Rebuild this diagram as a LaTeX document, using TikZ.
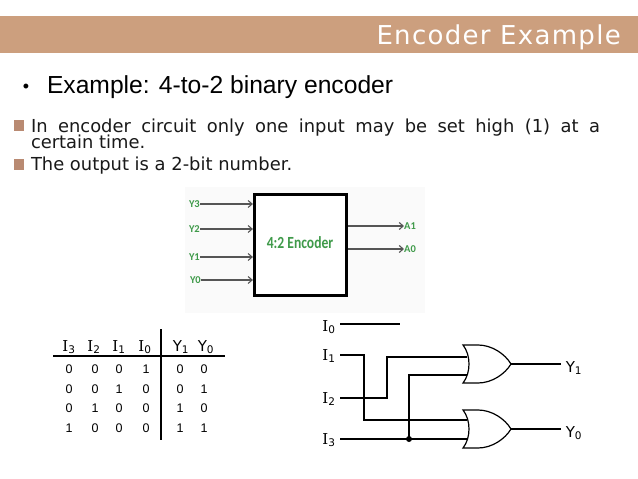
\documentclass[tikz,border=0pt]{standalone}
\usepackage{fontspec}
\setmainfont{Liberation Sans}
\newfontfamily\dvs{DejaVu Sans}
\newfontfamily\dvstitle[LetterSpace=5]{DejaVu Sans}
\newfontfamily\dvi{DejaVu Serif}
\newfontfamily\crl{Carlito}
\usetikzlibrary{arrows.meta}
\definecolor{barcol}{HTML}{CC9F7E}
\definecolor{sqcol}{HTML}{B98A72}
\definecolor{grn}{HTML}{3F9A4A}
\definecolor{arrgray}{HTML}{555555}
\newcommand{\Iv}[1]{{\dvi I}\textsubscript{\dvs #1}}
\newcommand{\Yv}[1]{{\dvs Y}\textsubscript{\dvs #1}}
\tikzset{
  x=1pt,y=-1pt,
  txt/.style={inner sep=0pt,outer sep=0pt,anchor=base west,text=black},
  bodytxt/.style={txt,font=\dvs\fontsize{17.9}{18}\selectfont,text=black!90},
  sq/.style={fill=sqcol,draw=none,inner sep=0pt,minimum width=10pt,minimum height=11pt,anchor=north west},
  grnlbl/.style={inner sep=0pt,text=grn,font=\crl\bfseries\fontsize{10.5}{11}\selectfont},
  encarrow/.style={draw=arrgray,line width=1.1pt,-{Straight Barb[length=4pt,width=7pt]}},
  wire/.style={draw=black,line width=1.2pt},
  rule/.style={draw=black,line width=1.5pt},
  digit/.style={inner sep=0pt,font=\fontsize{12.5}{13}\selectfont,anchor=base},
  hdr/.style={inner sep=0pt,font=\fontsize{15}{15}\selectfont,anchor=base},
  cirlbl/.style={inner sep=0pt,font=\fontsize{15}{15}\selectfont,anchor=base},
  orgate/.pic={
    \draw[line width=1.2pt,fill=white]
      (-1,-19) .. controls (7,-9) and (7,9) .. (-1,19)
      -- (14,19) .. controls (28,19) and (41,10) .. (47,0)
      .. controls (41,-10) and (28,-19) .. (14,-19) -- cycle;
  }
}
\begin{document}
\begin{tikzpicture}
\useasboundingbox (0,0) rectangle (638,479);
\fill[white] (0,0) rectangle (638,479);
% title
\fill[barcol] (0,16) rectangle (638,53);
\node[inner sep=0pt,anchor=base east,text=white,font=\dvstitle\fontsize{26}{26}\selectfont] (title) at (621,45) {Encoder Example};
% headline
\node[txt,font=\fontsize{18}{18}\selectfont] (bul) at (23,92) {•};
\node[txt,font=\fontsize{24.65}{25}\selectfont] (head) at (47,93) {Example: 4-to-2 binary encoder};
% body
\node[sq] (s1) at (13.5,120) {};
\node[bodytxt] (l1) at (31,132) {\makebox[569pt][s]{In encoder circuit only one input may be set high (1) at a}};
\node[bodytxt] (l2) at (31,148) {certain time.};
\node[sq] (s2) at (13.5,159) {};
\node[bodytxt] (l3) at (31,170) {The output is a 2-bit number.};
% encoder block
\fill[black!2] (185,187) rectangle (425,313);
\node[draw=black,line width=3.2pt,fill=white,minimum width=92pt,minimum height=101pt,inner sep=0pt] (enc) at (300.5,245) {};
\node[inner sep=0pt,text=grn,font=\crl\bfseries\fontsize{17}{17}\selectfont] (enctxt) at (300,243) {\scalebox{0.8}[1]{4:2 Encoder}};
\node[grnlbl,anchor=east] (y3) at (200,204) {Y3};
\node[grnlbl,anchor=east] (y2) at (200,229) {Y2};
\node[grnlbl,anchor=east] (y1) at (200,257) {Y1};
\node[grnlbl,anchor=east] (y0) at (201,280) {Y0};
\node[grnlbl,anchor=west] (a1) at (404,226) {A1};
\node[grnlbl,anchor=west] (a0) at (404,249) {A0};
\draw[encarrow] (y3.east) -- (y3.east -| enc.west);
\draw[encarrow] (y2.east) -- (y2.east -| enc.west);
\draw[encarrow] (y1.east) -- (y1.east -| enc.west);
\draw[encarrow] (y0.east) -- (y0.east -| enc.west);
\draw[encarrow] (a1.west -| enc.east) -- (a1.west);
\draw[encarrow] (a0.west -| enc.east) -- (a0.west);
% truth table
\foreach \n/\x/\t in {a/69/3,b/94/2,c/119/1,d/145/0}
  \node[hdr] (h\n) at (\x,351) {\Iv{\t}};
\foreach \n/\x/\t in {e/181/1,f/206/0}
  \node[hdr] (h\n) at (\x,351) {\Yv{\t}};
\coordinate (hl) at (53,356); \coordinate (hr) at (225,356);
\coordinate (vt) at (161,329); \coordinate (vb) at (161,440);
\draw[rule] (hl) -- (hr);
\draw[rule] (vt) -- (vb);
\foreach \y/\da/\db/\dc/\dd/\de/\df in {373/0/0/0/1/0/0,393/0/0/1/0/0/1,412/0/1/0/0/1/0,432/1/0/0/0/1/1}{
  \node[digit] at (69,\y) {\da};
  \node[digit] at (95,\y) {\db};
  \node[digit] at (119,\y) {\dc};
  \node[digit] at (146,\y) {\dd};
  \node[digit] at (180,\y) {\de};
  \node[digit] at (204,\y) {\df};
}
% circuit
\node[cirlbl] (i0) at (329,331) {\Iv{0}};
\node[cirlbl] (i1) at (329,360) {\Iv{1}};
\node[cirlbl] (i2) at (329,403) {\Iv{2}};
\node[cirlbl] (i3) at (329,444) {\Iv{3}};
\node[cirlbl] (oy1) at (574,372) {\Yv{1}};
\node[cirlbl] (oy0) at (574,437) {\Yv{0}};
\coordinate (i0s) at (340,324); \coordinate (i0e) at (400,324);
\coordinate (i1s) at (340,355); \coordinate (i1a) at (364,355); \coordinate (i1b) at (364,420); \coordinate (g2a) at (467,420);
\coordinate (i2s) at (340,398); \coordinate (i2a) at (387,398); \coordinate (i2b) at (387,357); \coordinate (g1a) at (467,357);
\coordinate (i3s) at (340,439); \coordinate (g2b) at (467,439);
\coordinate (jct) at (409,439); \coordinate (jt) at (409,375); \coordinate (g1b) at (467,375);
\coordinate (g1o) at (511,364); \coordinate (y1e) at (561,364);
\coordinate (g2o) at (511,429); \coordinate (y0e) at (561,429);
\draw[wire] (i0s) -- (i0e);
\draw[wire] (i1s) -- (i1a) -- (i1b) -- (g2a);
\draw[wire] (i2s) -- (i2a) -- (i2b) -- (g1a);
\draw[wire] (i3s) -- (g2b);
\draw[wire] (jct) -- (jt) -- (g1b);
\fill (jct) circle (3pt);
\pic at (464,364) {orgate};
\pic at (464,429) {orgate};
\draw[wire] (g1o) -- (y1e);
\draw[wire] (g2o) -- (y0e);
\end{tikzpicture}
\end{document}
